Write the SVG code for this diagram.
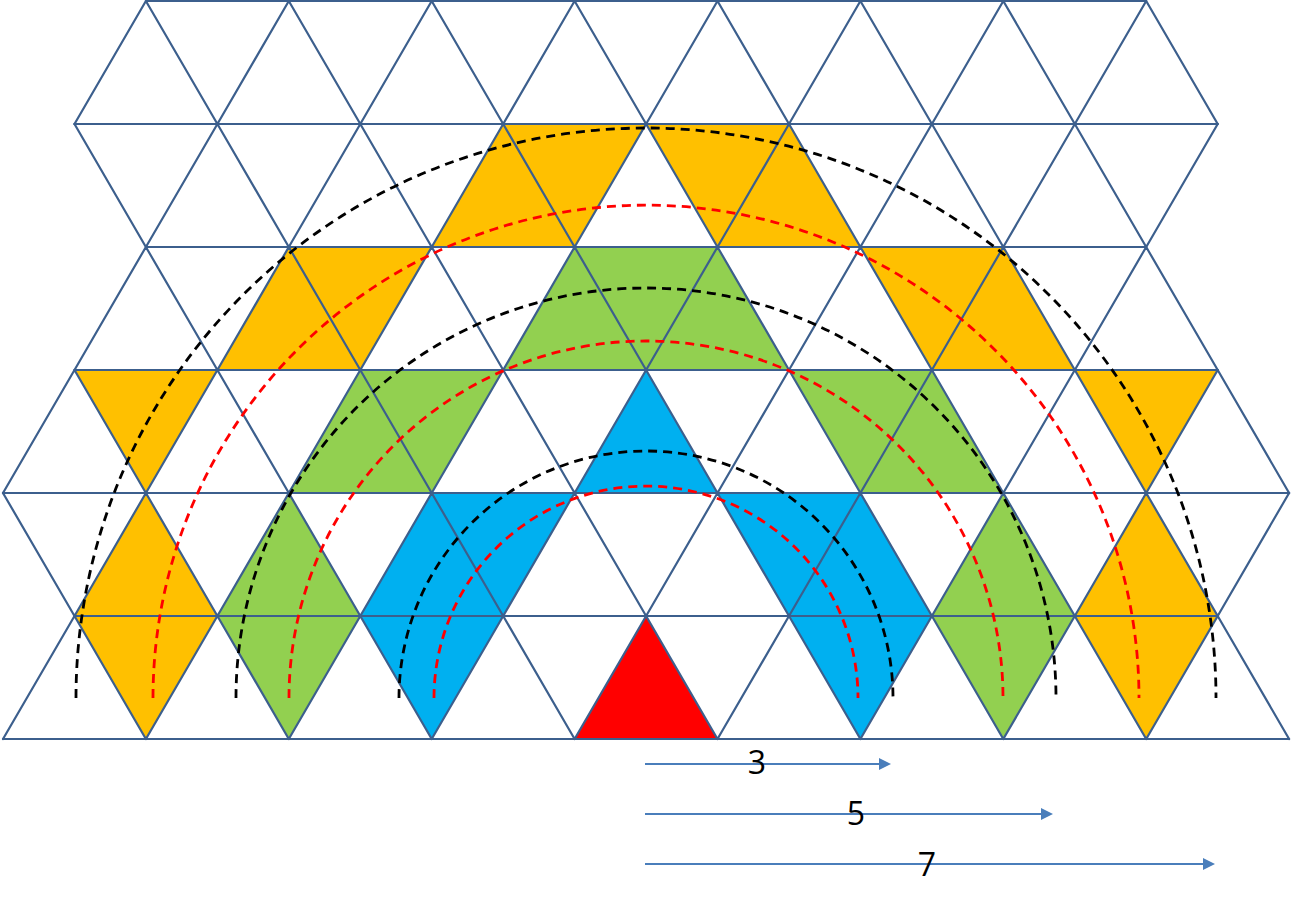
<svg xmlns="http://www.w3.org/2000/svg" width="1291" height="910" viewBox="0 0 1291 910">
<style>
.bg{fill:#FFFFFF}
.or{fill:#FFC000}
.gr{fill:#92D050}
.bl{fill:#00B0F0}
.rd{fill:#FF0000}
.grid{fill:none;stroke:#3C5F8D;stroke-width:2.2;stroke-linejoin:round;stroke-linecap:round}
.arcB{fill:none;stroke:#000000;stroke-width:2.8;stroke-dasharray:9 6}
.arcR{fill:none;stroke:#FF0000;stroke-width:2.8;stroke-dasharray:9 6}
.arr{fill:none;stroke:#4A7EBB;stroke-width:2}
.lbl{font-family:"Open Sans","Liberation Sans",sans-serif;font-size:32px;fill:#000000;text-anchor:middle}
</style>
<defs>
<marker id="ah" viewBox="0 0 12 12" refX="0" refY="6" markerWidth="12" markerHeight="12" markerUnits="userSpaceOnUse" orient="auto">
<path d="M0,0 L12,6 L0,12 z" fill="#4A7EBB"/>
</marker>
</defs>
<rect class="bg" x="0" y="0" width="1291" height="910"/>
<g id="fills">
<g id="red"><polygon class="rd" points="646.1,616 574.6,739 717.5,739"/></g>
<g id="blue">
<polygon id="b1" class="bl" points="646.1,370 574.6,493 717.5,493"/>
<polygon id="b2" class="bl" points="431.7,493 574.6,493 503.2,616 360.3,616"/>
<polygon id="b3" class="bl" points="717.5,493 860.4,493 931.9,616 789,616"/>
<polygon id="b4" class="bl" points="360.3,616 503.2,616 431.7,739"/>
<polygon id="b5" class="bl" points="789,616 931.9,616 860.4,739"/>
</g>
<g id="green">
<polygon id="g1" class="gr" points="574.6,247 717.5,247 789,370 503.2,370"/>
<polygon id="g2" class="gr" points="360.3,370 503.2,370 431.7,493 288.8,493"/>
<polygon id="g3" class="gr" points="789,370 931.9,370 1003.3,493 860.4,493"/>
<polygon id="g4" class="gr" points="288.8,493 217.4,616 360.3,616"/>
<polygon id="g5" class="gr" points="1003.3,493 931.9,616 1074.8,616"/>
<polygon id="g6" class="gr" points="217.4,616 360.3,616 288.8,739"/>
<polygon id="g7" class="gr" points="931.9,616 1074.8,616 1003.3,739"/>
</g>
<g id="orange">
<polygon id="o1" class="or" points="503.2,124 646.1,124 574.6,247 431.7,247"/>
<polygon id="o2" class="or" points="646.1,124 789,124 860.4,247 717.5,247"/>
<polygon id="o3" class="or" points="288.8,247 431.7,247 360.3,370 217.4,370"/>
<polygon id="o4" class="or" points="860.4,247 1003.3,247 1074.8,370 931.9,370"/>
<polygon id="o5" class="or" points="74.5,370 217.4,370 145.9,493"/>
<polygon id="o6" class="or" points="1074.8,370 1217.7,370 1146.2,493"/>
<polygon id="o7" class="or" points="145.9,493 74.5,616 217.4,616"/>
<polygon id="o8" class="or" points="1146.2,493 1074.8,616 1217.7,616"/>
<polygon id="o9" class="or" points="74.5,616 217.4,616 145.9,739"/>
<polygon id="o10" class="or" points="1074.8,616 1217.7,616 1146.2,739"/>
</g>
</g>
<g id="grid">
<path class="grid" d="M145.9,1 H1146.2 M74.5,124 H1217.7 M145.9,247 H1146.2 M74.5,370 H1217.7 M3,493 H1289.1 M74.5,616 H1217.7 M3,739 H1289.1"/>
<path class="grid" d="M74.5,124 L145.9,1 L217.4,124 L288.8,1 L360.3,124 L431.7,1 L503.2,124 L574.6,1 L646.1,124 L717.5,1 L789,124 L860.4,1 L931.9,124 L1003.3,1 L1074.8,124 L1146.2,1 L1217.7,124"/>
<path class="grid" d="M74.5,124 L145.9,247 L217.4,124 L288.8,247 L360.3,124 L431.7,247 L503.2,124 L574.6,247 L646.1,124 L717.5,247 L789,124 L860.4,247 L931.9,124 L1003.3,247 L1074.8,124 L1146.2,247 L1217.7,124"/>
<path class="grid" d="M74.5,370 L145.9,247 L217.4,370 L288.8,247 L360.3,370 L431.7,247 L503.2,370 L574.6,247 L646.1,370 L717.5,247 L789,370 L860.4,247 L931.9,370 L1003.3,247 L1074.8,370 L1146.2,247 L1217.7,370"/>
<path class="grid" d="M3,493 L74.5,370 L145.9,493 L217.4,370 L288.8,493 L360.3,370 L431.7,493 L503.2,370 L574.6,493 L646.1,370 L717.5,493 L789,370 L860.4,493 L931.9,370 L1003.3,493 L1074.8,370 L1146.2,493 L1217.7,370 L1289.1,493"/>
<path class="grid" d="M3,493 L74.5,616 L145.9,493 L217.4,616 L288.8,493 L360.3,616 L431.7,493 L503.2,616 L574.6,493 L646.1,616 L717.5,493 L789,616 L860.4,493 L931.9,616 L1003.3,493 L1074.8,616 L1146.2,493 L1217.7,616 L1289.1,493"/>
<path class="grid" d="M3,739 L74.5,616 L145.9,739 L217.4,616 L288.8,739 L360.3,616 L431.7,739 L503.2,616 L574.6,739 L646.1,616 L717.5,739 L789,616 L860.4,739 L931.9,616 L1003.3,739 L1074.8,616 L1146.2,739 L1217.7,616 L1289.1,739"/>
</g>
<g id="arcs">
<path class="arcB" d="M399,698 A247,247 0 0 1 893,698"/>
<path class="arcB" d="M236,698 A410,410 0 0 1 1056,698"/>
<path class="arcB" d="M76,698 A570,570 0 0 1 1216,698"/>
<path class="arcR" d="M434,698 A212,212 0 0 1 858,698"/>
<path class="arcR" d="M289,698 A357,357 0 0 1 1003,698"/>
<path class="arcR" d="M153,698 A493,493 0 0 1 1139,698"/>
</g>
<g id="connectors">
<line class="arr" x1="645" y1="764" x2="879" y2="764" marker-end="url(#ah)"/>
<line class="arr" x1="645" y1="814" x2="1041" y2="814" marker-end="url(#ah)"/>
<line class="arr" x1="645" y1="864" x2="1203" y2="864" marker-end="url(#ah)"/>
</g>
<g id="labels">
<text class="lbl" x="757" y="774">3</text>
<text class="lbl" x="856" y="825">5</text>
<text class="lbl" x="927" y="876">7</text>
</g>
</svg>
